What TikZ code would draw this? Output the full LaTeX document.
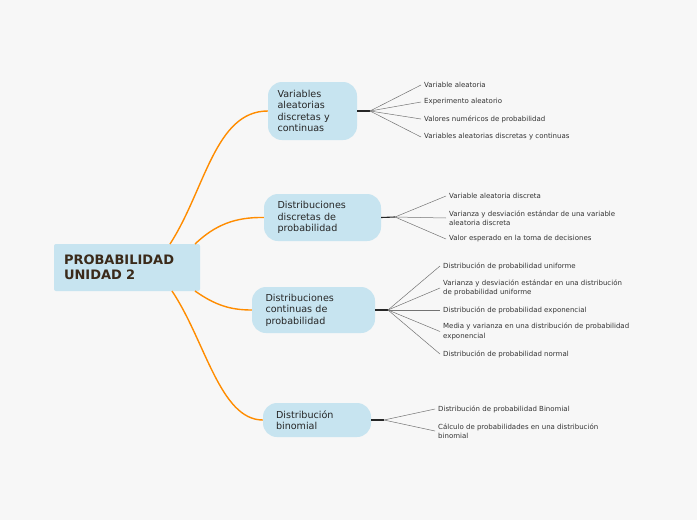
\documentclass[tikz,border=0pt]{standalone}
\usepackage{fontspec}
\setmainfont{DejaVu Sans}
\begin{document}
\begin{tikzpicture}[x=1pt,y=-1pt,
  root/.style={fill=rootc,rounded corners=2pt,minimum width=146pt,minimum height=47pt,align=left,text=brn,font=\fontsize{13}{14.5}\selectfont\bfseries,text width=126pt},
  br/.style={fill=rootc,rounded corners=14pt,align=left,font=\fontsize{9.6}{11.5}\selectfont,text=black!85},
  leaf/.style={anchor=west,align=left,font=\fontsize{7}{9.5}\selectfont,text=black!80,inner sep=1pt},
  org/.style={draw=orange!90!yellow,line width=1.4pt},
  hub/.style={draw=black!85,line width=1.1pt},
  ln/.style={draw=black!55,line width=0.5pt}]
\definecolor{rootc}{HTML}{C7E4F0}
\definecolor{brn}{HTML}{3A2A1A}
\fill[black!3] (0,0) rectangle (697,520);
\useasboundingbox (0,0) rectangle (697,520);
\node[root] (r) at (127,267.5) {PROBABILIDAD\\UNIDAD 2};
\node[br,minimum width=89pt,minimum height=58pt,text width=70pt] (a) at (312.5,111) {Variables\\aleatorias\\discretas y\\continuas};
\node[br,minimum width=117pt,minimum height=47pt,text width=90pt] (b) at (322.5,217.5) {Distribuciones\\discretas de\\probabilidad};
\node[br,minimum width=123pt,minimum height=46pt,text width=96pt] (c) at (313.5,310) {Distribuciones\\continuas de\\probabilidad};
\node[br,minimum width=108pt,minimum height=34pt,text width=82pt] (d) at (317,420) {Distribución\\binomial};
\coordinate (r1) at (170,244); \coordinate (r2) at (195,244);
\coordinate (r3) at (195,291); \coordinate (r4) at (172,291);
\draw[org] (r1) .. controls (205,190) and (215,111) .. (a.west);
\draw[org] (r2) .. controls (215,225) and (235,217) .. (b.west);
\draw[org] (r3) .. controls (215,305) and (230,310) .. (c.west);
\draw[org] (r4) .. controls (205,340) and (220,420) .. (d.west);
\coordinate (ha) at (370,111); \coordinate (hb) at (395,217);
\coordinate (hc) at (388,310); \coordinate (hd) at (384,420);
\draw[hub] (a.east) -- (ha); \draw[hub] (b.east) -- (hb);
\draw[hub] (c.east) -- (hc); \draw[hub] (d.east) -- (hd);
\node[leaf] (a1) at (423,85) {Variable aleatoria};
\node[leaf] (a2) at (423,102) {Experimento aleatorio};
\node[leaf] (a3) at (423,119) {Valores numéricos de probabilidad};
\node[leaf] (a4) at (423,137) {Variables aleatorias discretas y continuas};
\node[leaf] (b1) at (448,196) {Variable aleatoria discreta};
\node[leaf] (b2) at (448,218) {Varianza y desviación estándar de una variable\\aleatoria discreta};
\node[leaf] (b3) at (448,239) {Valor esperado en la toma de decisiones};
\node[leaf] (c1) at (442,266) {Distribución de probabilidad uniforme};
\node[leaf] (c2) at (442,288) {Varianza y desviación estándar en una distribución\\de probabilidad uniforme};
\node[leaf] (c3) at (442,310) {Distribución de probabilidad exponencial};
\node[leaf] (c4) at (442,331.5) {Media y varianza en una distribución de probabilidad\\exponencial};
\node[leaf] (c5) at (442,354) {Distribución de probabilidad normal};
\node[leaf] (d1) at (437,409) {Distribución de probabilidad Binomial};
\node[leaf] (d2) at (437,431) {Cálculo de probabilidades en una distribución\\binomial};
\foreach \n in {a1,a2,a3,a4} \draw[ln] (ha) -- ([xshift=-2pt]\n.west);
\foreach \n in {b1,b2,b3} \draw[ln] (hb) -- ([xshift=-2pt]\n.west);
\foreach \n in {c1,c2,c3,c4,c5} \draw[ln] (hc) -- ([xshift=-2pt]\n.west);
\foreach \n in {d1,d2} \draw[ln] (hd) -- ([xshift=-2pt]\n.west);
\end{tikzpicture}
\end{document}
